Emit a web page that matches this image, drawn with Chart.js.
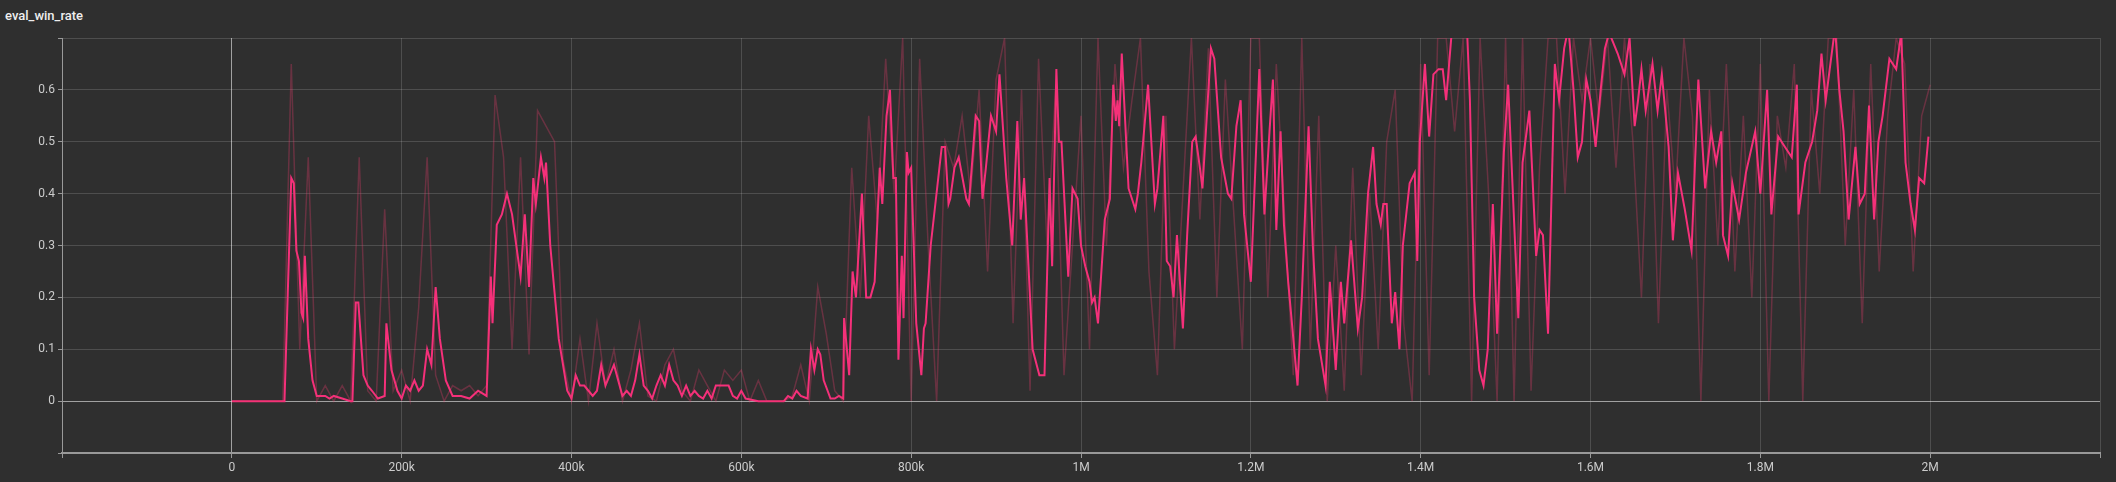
<!DOCTYPE html>
<html><head><meta charset="utf-8">
<script src="https://cdn.jsdelivr.net/npm/chart.js@4"></script>
<style>
html,body{margin:0;padding:0;background:#2f2f2f;overflow:hidden}
#wrap{position:relative;width:2116px;height:482px}
#title{position:absolute;left:5px;top:8px;color:#eee;font:500 13px Roboto,sans-serif}
canvas{position:absolute;left:0;top:0}
</style></head><body>
<div id="wrap"><div id="title">eval_win_rate</div><canvas id="c" width="2116" height="482"></canvas></div>
<script>
const smoothSteps=[0,60,62,70,73,76,79,82,84,86,90,95,100,110,115,120,130,140,142,146,149,155,160,165,172,180,182,188,195,200,205,210,215,220,225,230,235,240,245,252,260,270,280,290,300,305,307,312,318,324,330,340,345,350,355,358,364,368,370,375,385,395,400,405,410,415,420,425,430,435,440,445,450,455,460,465,470,475,480,485,490,495,500,505,510,515,520,525,530,535,540,545,550,555,560,565,570,585,590,595,600,605,620,650,655,660,665,670,678,682,686,690,693,697,705,710,715,720,721,727,731,735,742,747,752,757,763,766,771,775,779,782,785,789,791,795,797,800,806,812,815,817,823,836,840,844,846,851,856,865,868,876,880,884,888,894,900,904,912,919,925,929,933,943,951,957,963,966,971,974,977,985,990,996,1000,1005,1010,1013,1016,1020,1028,1034,1038,1041,1043,1045,1048,1056,1064,1067,1071,1079,1087,1090,1097,1101,1105,1109,1113,1120,1125,1131,1135,1140,1143,1153,1157,1165,1173,1177,1183,1188,1192,1200,1210,1216,1222,1226,1230,1235,1239,1244,1255,1260,1268,1273,1279,1288,1293,1300,1306,1310,1318,1326,1331,1338,1344,1348,1353,1356,1360,1366,1370,1375,1379,1387,1393,1396,1399,1405,1410,1415,1421,1426,1430,1437,1445,1455,1458,1463,1469,1474,1479,1485,1490,1498,1503,1515,1520,1528,1536,1540,1544,1550,1558,1563,1569,1574,1580,1585,1590,1595,1600,1606,1612,1617,1622,1632,1640,1646,1652,1656,1660,1665,1673,1679,1684,1692,1697,1703,1711,1719,1727,1735,1742,1748,1754,1756,1762,1767,1775,1783,1794,1800,1808,1813,1821,1829,1837,1843,1845,1853,1861,1867,1872,1877,1888,1893,1898,1904,1912,1917,1923,1928,1934,1939,1944,1952,1960,1966,1971,1977,1982,1987,1993,1998];
const smoothValues=[0,0,0,0.43,0.42,0.29,0.27,0.17,0.16,0.28,0.12,0.04,0.01,0.01,0.005,0.01,0.005,0,0,0.19,0.19,0.05,0.03,0.02,0.005,0.01,0.15,0.06,0.02,0.005,0.03,0.02,0.04,0.02,0.03,0.10,0.07,0.22,0.12,0.04,0.01,0.01,0.005,0.02,0.01,0.24,0.15,0.34,0.36,0.40,0.36,0.24,0.36,0.22,0.43,0.38,0.47,0.43,0.46,0.30,0.12,0.02,0.005,0.05,0.03,0.03,0.02,0.01,0.02,0.07,0.03,0.05,0.07,0.04,0.01,0.02,0.01,0.04,0.09,0.03,0.02,0.005,0.03,0.05,0.03,0.07,0.04,0.03,0.01,0.03,0.01,0.02,0.01,0.005,0.02,0.005,0.03,0.03,0.01,0.005,0.02,0.005,0,0,0.01,0.005,0.02,0.01,0.005,0.10,0.06,0.10,0.09,0.04,0.005,0.005,0.01,0.005,0.16,0.05,0.25,0.20,0.40,0.20,0.20,0.23,0.45,0.38,0.55,0.60,0.43,0.43,0.08,0.28,0.16,0.48,0.44,0.45,0.15,0.05,0.14,0.15,0.30,0.49,0.49,0.38,0.39,0.45,0.47,0.39,0.38,0.55,0.54,0.39,0.45,0.55,0.52,0.63,0.43,0.30,0.54,0.35,0.43,0.10,0.05,0.05,0.43,0.26,0.64,0.50,0.50,0.24,0.41,0.39,0.30,0.26,0.23,0.19,0.20,0.15,0.35,0.39,0.61,0.54,0.58,0.53,0.67,0.41,0.37,0.40,0.46,0.61,0.38,0.41,0.55,0.27,0.26,0.20,0.32,0.14,0.32,0.50,0.51,0.45,0.41,0.68,0.66,0.47,0.40,0.39,0.53,0.58,0.36,0.23,0.64,0.36,0.52,0.62,0.33,0.52,0.34,0.23,0.03,0.20,0.53,0.30,0.12,0.03,0.23,0.06,0.23,0.15,0.31,0.14,0.20,0.40,0.49,0.38,0.34,0.38,0.38,0.15,0.21,0.10,0.30,0.42,0.44,0.27,0.50,0.65,0.51,0.63,0.64,0.64,0.58,0.72,0.75,0.70,0.58,0.20,0.06,0.03,0.10,0.38,0.13,0.48,0.61,0.16,0.46,0.56,0.28,0.33,0.32,0.13,0.65,0.58,0.68,0.72,0.60,0.47,0.50,0.62,0.58,0.49,0.60,0.68,0.71,0.67,0.63,0.70,0.53,0.58,0.64,0.56,0.65,0.56,0.63,0.49,0.31,0.44,0.37,0.29,0.62,0.41,0.52,0.46,0.52,0.32,0.28,0.42,0.35,0.44,0.52,0.40,0.60,0.36,0.51,0.49,0.47,0.61,0.36,0.46,0.50,0.56,0.67,0.58,0.72,0.60,0.52,0.35,0.49,0.38,0.40,0.57,0.35,0.50,0.55,0.66,0.64,0.71,0.46,0.38,0.33,0.43,0.42,0.51];
const rawValues=[0,0,0,0,0,0,0,
0.65,0.10,0.47,0,0.03,0,0.03,0,
0.47,0.02,0,0.37,0.02,0.06,0,0.18,0.47,0.05,0,0.03,0.02,0.03,0.01,0.03,
0.59,0.47,0.10,0.47,0.09,0.56,0.53,0.50,0.08,0,
0.12,0,0.15,0.03,0.10,0,0.06,0.15,0.01,0,0.07,0.10,0.02,0,0.06,0.03,0,0.06,0.04,0.06,0,0.04,0,0,0,0.01,0.07,0,0.22,0.13,0.02,0,
0.45,0.20,0.55,0.35,0.66,0.40,0.70,0.0,0.66,0.30,0,0.50,0.45,0.55,0.40,0.60,0.25,0.62,
0.70,0.15,0.60,0.02,0.66,0.30,0.60,0.05,0.30,0.55,0.10,0.70,0.30,0.65,0.45,0.58,0.70,0.25,0.05,0.55,0.10,0.40,0.70,0.35,0.68,0.20,0.62,0.36,0.10,0.70,
0.70,0.20,0.65,0.35,0.05,0.70,0.10,0.55,0.0,0.30,0.02,0.45,0.05,0.40,0.10,0.50,0.60,0.15,0.0,0.65,0.05,0.70,0.70,0.52,0.70,0.0,0.70,0.40,0.0,0.70,
0.0,0.70,0.02,0.45,0.70,0.70,0.40,0.70,0.58,0.70,0.55,0.70,0.45,0.70,0.50,0.20,0.65,0.15,0.60,0.40,0.70,0.55,0.0,0.60,0.30,0.65,0.25,0.55,0.20,0.65,
0.0,0.55,0.45,0.65,0.0,0.60,0.40,0.70,0.70,0.30,0.60,0.15,0.65,0.25,0.55,0.70,0.65,0.25,0.55,0.61];
const rawSteps=rawValues.map((_,i)=>i*10);
const fmtX=v=>{if(v===-200||v===2200)return '';if(v===0)return '0';if(v>=1000)return (v/1000)+'M';return v+'k';};
const fmtY=v=>{v=Math.round(v*10)/10;if(v<=-0.1||v>=0.7)return '';return v===0?'0':String(v);};
new Chart(document.getElementById('c'),{
 type:'line',
 data:{datasets:[
  {data:rawSteps.map((x,i)=>({x,y:rawValues[i]})),borderColor:'rgba(240,60,110,0.3)',borderWidth:1.5,pointRadius:0,tension:0},
  {data:smoothSteps.map((x,i)=>({x,y:smoothValues[i]})),borderColor:'#f5307a',borderWidth:2,pointRadius:0,tension:0}
 ]},
 options:{responsive:false,animation:false,parsing:true,
  layout:{padding:{top:38,right:16,left:0,bottom:0}},
  plugins:{legend:{display:false},tooltip:{enabled:false}},
  scales:{
   x:{type:'linear',min:-200,max:2200,
    ticks:{stepSize:200,callback:fmtX,color:'#ccc',font:{family:'Roboto',size:12},maxRotation:0,autoSkip:false},
    grid:{color:c=>c.tick&&c.tick.value===0?'rgba(255,255,255,0.55)':'rgba(255,255,255,0.15)',tickLength:5,tickColor:'#999'},
    border:{color:'#999',width:2},
    afterFit:a=>{a.height=29;}},
   y:{min:-0.1,max:0.7,
    ticks:{stepSize:0.1,callback:fmtY,color:'#ccc',font:{family:'Roboto',size:12}},
    grid:{color:c=>c.tick&&Math.abs(c.tick.value)<1e-9?'rgba(255,255,255,0.55)':'rgba(255,255,255,0.15)',tickLength:4,tickColor:'#999'},
    border:{color:'#999',width:1},
    afterFit:a=>{a.width=62;}}
  }}
});
</script></body></html>
